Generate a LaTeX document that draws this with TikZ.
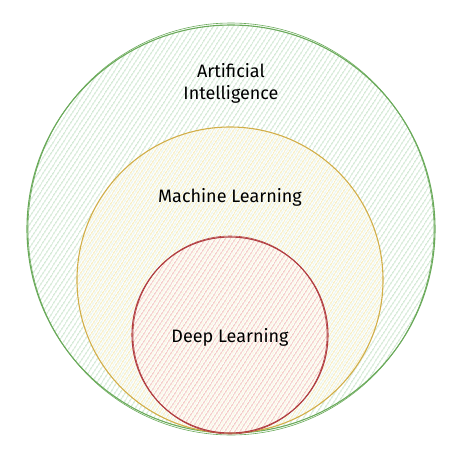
\documentclass[tikz,border=0pt]{standalone}
\usepackage{fontspec}
\setmainfont{Fira Sans}
\usetikzlibrary{patterns.meta}

\definecolor{aigreen}{HTML}{6AAA5A}
\definecolor{aihatch}{HTML}{BADCBD}
\definecolor{mlyellow}{HTML}{D2AE48}
\definecolor{mlhatch}{HTML}{F2E49E}
\definecolor{dlred}{HTML}{B23E42}
\definecolor{dlhatch}{HTML}{F3B0A8}

\tikzset{
  ring/.style={circle, inner sep=0pt, line width=1.1pt},
  hatch/.style={pattern={Lines[angle=57,distance=4pt,line width=1pt]}, pattern color=#1},
  veil/.style={preaction={fill=white, fill opacity=0.55}},
  lbl/.style={font=\fontsize{18}{22}\selectfont, align=center, text=black}
}

\begin{document}
\begin{tikzpicture}[x=1pt, y=-1pt]
  \useasboundingbox (0,0) rectangle (461,461);
  % the three nested sets
  \node[ring, draw=aigreen, hatch=aihatch, minimum size=408pt] (ai) at (231,229) {};
  \node[ring, veil, draw=mlyellow, hatch=mlhatch, minimum size=306pt] (ml) at (230,280) {};
  \node[ring, veil, draw=dlred, hatch=dlhatch, minimum size=196pt] (dl) at (230,335) {};
  % sketchy second strokes
  \draw[aigreen, line width=0.6pt] (ai.center) ellipse [x radius=203pt, y radius=206pt];
  \draw[dlred, line width=0.6pt] (dl.center) ellipse [x radius=97pt, y radius=99pt];
  % labels
  \node[lbl] (ailbl) at (231,83) {Artificial\\Intelligence};
  \node[lbl] (mllbl) at (230,197) {Machine Learning};
  \node[lbl] (dllbl) at (230,337) {Deep Learning};
\end{tikzpicture}
\end{document}
